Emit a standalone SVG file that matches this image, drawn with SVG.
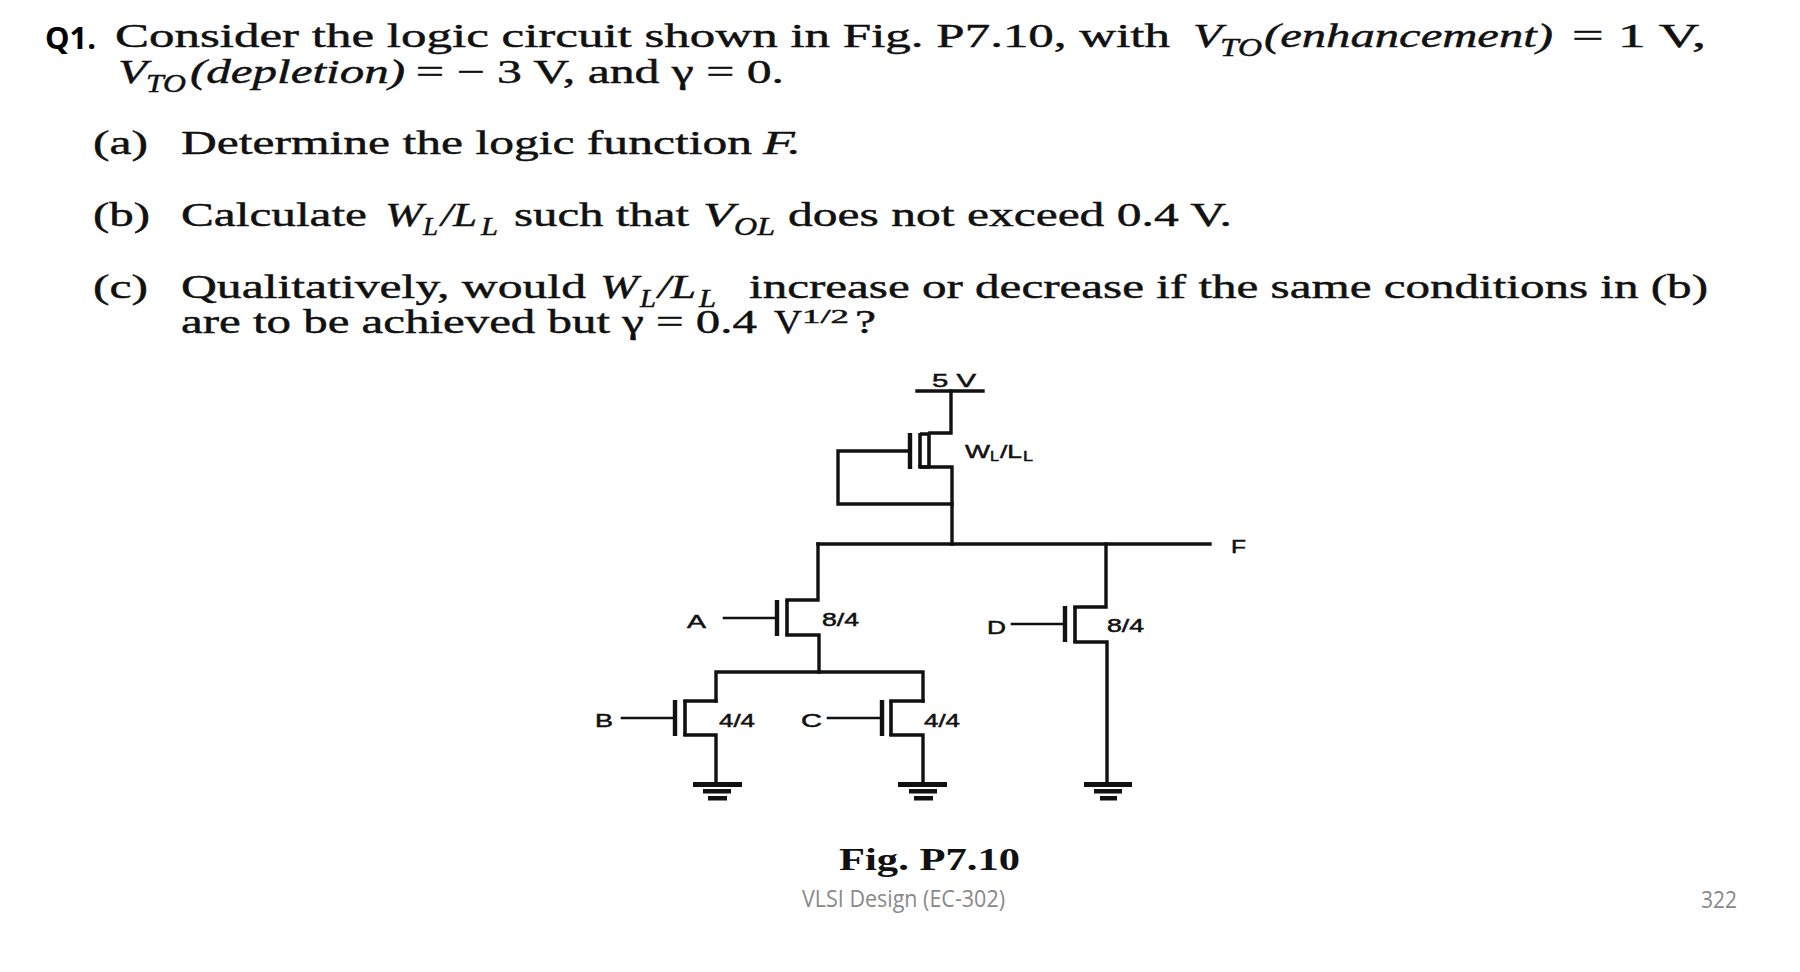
<svg xmlns="http://www.w3.org/2000/svg" width="1800" height="972" viewBox="0 0 1800 972">
<style>
.t{font-family:"Liberation Serif","Times New Roman",serif;font-size:34px;fill:#111;stroke:#111;stroke-width:.45px}
.i{font-style:italic}
.s{font-size:25px;font-style:italic}
.u{font-size:19px}
.f{font-family:"Liberation Sans",Arial,sans-serif;font-size:18.5px;fill:#111;stroke:#111;stroke-width:.5px}
.fs{font-size:14px}
.g{font-family:"Open Sans","Noto Sans",sans-serif;font-size:23px;fill:#898989}
.w{fill:none;stroke:#111;stroke-width:3.4;stroke-linecap:square;stroke-linejoin:miter}
.thin{stroke-width:2.6}
.p{fill:none;stroke:#111;stroke-width:4.4;stroke-linecap:butt}
.c{fill:none;stroke:#111;stroke-width:3.6}
</style>
<rect width="1800" height="972" fill="#fff"/>

<g id="question">
<text x="45" y="49" textLength="51" lengthAdjust="spacingAndGlyphs" style="font-family:'Open Sans','Noto Sans',sans-serif;font-weight:700;font-size:31px;fill:#000">Q1.</text>
<text class="t" x="115" y="47" textLength="1055" lengthAdjust="spacingAndGlyphs">Consider the logic circuit shown in Fig. P7.10, with</text>
<text class="t i" x="1193" y="47" textLength="29" lengthAdjust="spacingAndGlyphs">V</text>
<text class="t s" x="1220" y="56" textLength="42" lengthAdjust="spacingAndGlyphs">TO</text>
<text class="t i" x="1264" y="47" textLength="289" lengthAdjust="spacingAndGlyphs">(enhancement)</text>
<text class="t" x="1572" y="47" textLength="134" lengthAdjust="spacingAndGlyphs">= 1 V,</text>
<text class="t i" x="118" y="83" textLength="29" lengthAdjust="spacingAndGlyphs">V</text>
<text class="t s" x="146" y="92" textLength="40" lengthAdjust="spacingAndGlyphs">TO</text>
<text class="t i" x="190" y="83" textLength="215" lengthAdjust="spacingAndGlyphs">(depletion)</text>
<text class="t" x="416" y="83" textLength="368" lengthAdjust="spacingAndGlyphs">= − 3 V, and γ = 0.</text>
<text class="t" x="93" y="154" textLength="55" lengthAdjust="spacingAndGlyphs">(a)</text>
<text class="t" x="181" y="154" textLength="571" lengthAdjust="spacingAndGlyphs">Determine the logic function</text>
<text class="t i" x="763" y="154" textLength="38" lengthAdjust="spacingAndGlyphs">F.</text>
<text class="t" x="93" y="226" textLength="57" lengthAdjust="spacingAndGlyphs">(b)</text>
<text class="t" x="181" y="226" textLength="186" lengthAdjust="spacingAndGlyphs">Calculate</text>
<text class="t i" x="385" y="226" textLength="38" lengthAdjust="spacingAndGlyphs">W</text>
<text class="t s" x="423" y="235" textLength="15" lengthAdjust="spacingAndGlyphs">L</text>
<text class="t i" x="441" y="226" textLength="36" lengthAdjust="spacingAndGlyphs">/L</text>
<text class="t s" x="481" y="235" textLength="17" lengthAdjust="spacingAndGlyphs">L</text>
<text class="t" x="514" y="226" textLength="175" lengthAdjust="spacingAndGlyphs">such that</text>
<text class="t i" x="703" y="226" textLength="31" lengthAdjust="spacingAndGlyphs">V</text>
<text class="t s" x="734" y="235" textLength="41" lengthAdjust="spacingAndGlyphs">OL</text>
<text class="t" x="788" y="226" textLength="444" lengthAdjust="spacingAndGlyphs">does not exceed 0.4 V.</text>
<text class="t" x="93" y="298" textLength="55" lengthAdjust="spacingAndGlyphs">(c)</text>
<text class="t" x="181" y="298" textLength="405" lengthAdjust="spacingAndGlyphs">Qualitatively, would</text>
<text class="t i" x="600" y="298" textLength="38" lengthAdjust="spacingAndGlyphs">W</text>
<text class="t s" x="640" y="307" textLength="16" lengthAdjust="spacingAndGlyphs">L</text>
<text class="t i" x="658" y="298" textLength="38" lengthAdjust="spacingAndGlyphs">/L</text>
<text class="t s" x="699" y="307" textLength="17" lengthAdjust="spacingAndGlyphs">L</text>
<text class="t" x="749" y="298" textLength="959" lengthAdjust="spacingAndGlyphs">increase or decrease if the same conditions in (b)</text>
<text class="t" x="181" y="333" textLength="576" lengthAdjust="spacingAndGlyphs">are to be achieved but γ = 0.4</text>
<text class="t" x="774" y="333" textLength="28" lengthAdjust="spacingAndGlyphs">V</text>
<text class="t u" x="802" y="323" textLength="47" lengthAdjust="spacingAndGlyphs">1/2</text>
<text class="t" x="855" y="333" textLength="21" lengthAdjust="spacingAndGlyphs">?</text>
</g>

<g id="connectors">
<path class="w" d="M917 391H983"/>
<path class="w" d="M951 391V433H930"/>
<path class="w" d="M920 467H952V544"/>
<path class="w" d="M910 451H838V504H952"/>
<path class="w" d="M818 544H1210"/>
<path class="w" d="M818 544V600H787"/>
<path class="w" d="M787 635H819V672"/>
<path class="w" d="M716 701V672H923V701"/>
<path class="w" d="M716 701H685"/>
<path class="w" d="M685 735H716V784"/>
<path class="w" d="M923 701H891"/>
<path class="w" d="M891 735H923V784"/>
<path class="w" d="M1106 544V607H1075"/>
<path class="w" d="M1075 642H1107V784"/>
<path class="w thin" d="M724 618H777"/>
<path class="w thin" d="M622 718H675"/>
<path class="w thin" d="M828 718H882"/>
<path class="w thin" d="M1012 624H1065"/>
</g>

<g id="load-transistor">
<path class="p" d="M910 433V469"/>
<path class="c" d="M920 433V468M929 433V468M920 434H930M920 467H930"/>
<text class="f" x="965" y="458" textLength="25" lengthAdjust="spacingAndGlyphs">W</text>
<text class="f fs" x="990" y="461" textLength="9" lengthAdjust="spacingAndGlyphs">L</text>
<text class="f" x="1000" y="458" textLength="22" lengthAdjust="spacingAndGlyphs">/L</text>
<text class="f fs" x="1023" y="461" textLength="10" lengthAdjust="spacingAndGlyphs">L</text>
</g>
<g id="transistor-a">
<path class="p" d="M777 600V636"/>
<path class="c" d="M787 600V636"/>
<text class="f" x="687" y="628" textLength="19" lengthAdjust="spacingAndGlyphs">A</text>
<text class="f" x="822" y="626" textLength="37" lengthAdjust="spacingAndGlyphs">8/4</text>
</g>
<g id="transistor-b">
<path class="p" d="M675 700V736"/>
<path class="c" d="M685 700V736"/>
<text class="f" x="595" y="727" textLength="18" lengthAdjust="spacingAndGlyphs">B</text>
<text class="f" x="719" y="727" textLength="36" lengthAdjust="spacingAndGlyphs">4/4</text>
</g>
<g id="transistor-c">
<path class="p" d="M882 700V736"/>
<path class="c" d="M891 700V736"/>
<text class="f" x="801" y="727" textLength="21" lengthAdjust="spacingAndGlyphs">C</text>
<text class="f" x="924" y="727" textLength="36" lengthAdjust="spacingAndGlyphs">4/4</text>
</g>
<g id="transistor-d">
<path class="p" d="M1065 606V642"/>
<path class="c" d="M1075 606V643"/>
<text class="f" x="987" y="634" textLength="19" lengthAdjust="spacingAndGlyphs">D</text>
<text class="f" x="1107" y="632" textLength="37" lengthAdjust="spacingAndGlyphs">8/4</text>
</g>
<g id="supply"><text class="f" x="932" y="387" textLength="44" lengthAdjust="spacingAndGlyphs">5 V</text></g>
<g id="output"><text class="f" x="1238" y="553" textLength="15" lengthAdjust="spacingAndGlyphs" transform="translate(-7 0)">F</text></g>

<g id="ground-b" fill="#111"><rect x="693" y="782" width="49" height="5"/><rect x="703" y="789" width="28" height="4.5"/><rect x="708" y="796" width="19" height="4.5"/></g>
<g id="ground-c" fill="#111"><rect x="898" y="782" width="49" height="5"/><rect x="909" y="789" width="28" height="4.5"/><rect x="914" y="796" width="19" height="4.5"/></g>
<g id="ground-d" fill="#111"><rect x="1084" y="782" width="48" height="5"/><rect x="1094" y="789" width="28" height="4.5"/><rect x="1100" y="796" width="17" height="4.5"/></g>

<g id="caption">
<text x="839" y="870" textLength="181" lengthAdjust="spacingAndGlyphs" style="font-family:'Liberation Serif',serif;font-weight:700;font-size:32px;fill:#111">Fig. P7.10</text>
</g>
<g id="footer">
<text class="g" x="802" y="907" textLength="203" lengthAdjust="spacingAndGlyphs">VLSI Design (EC-302)</text>
<text class="g" x="1701" y="908" textLength="36" lengthAdjust="spacingAndGlyphs">322</text>
</g>
</svg>
